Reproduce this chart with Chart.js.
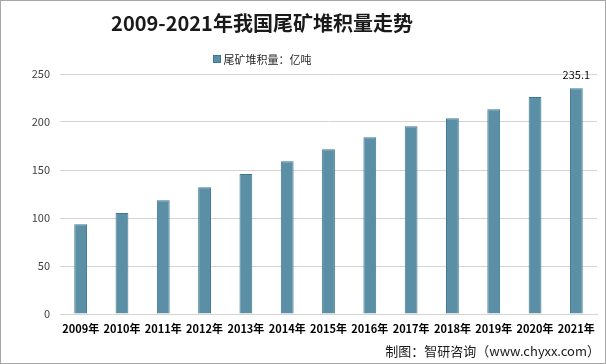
<!DOCTYPE html>
<html>
<head>
<meta charset="utf-8">
<script src="https://cdn.jsdelivr.net/npm/chart.js@4.4.1/dist/chart.umd.min.js"></script>
<style>
  body { margin: 0; background: #fff; }
  #wrap { position: relative; width: 606px; height: 364px; font-family: "Noto Sans CJK SC", "Noto Sans", sans-serif; }
  #frame { position: absolute; left: 0; top: 0; width: 606px; height: 364px; box-sizing: border-box; border: 1px solid #a6a6a6; pointer-events: none; }
  #titulo { position: absolute; left: 0; top: 11px; width: 524px; text-align: center; font-size: 20px; line-height: 24px; font-weight: bold; color: #1a1a1a; }
  #leyenda { position: absolute; left: 0; top: 51px; width: 524px; text-align: center; font-size: 11px; line-height: 16px; color: #262626; }
  #leyenda span.caja { display: inline-block; width: 6px; height: 6px; background: #5b8fa6; border: 1px solid #3d7891; margin-right: 3px; vertical-align: 1px; }
  #fuente { position: absolute; right: 6px; top: 343px; font-size: 13px; line-height: 16px; color: #1a1a1a; }
</style>
</head>
<body>
<div id="wrap">
  <canvas id="grafico"></canvas>
  <div id="titulo">2009-2021年我国尾矿堆积量走势</div>
  <div id="leyenda"><span class="caja"></span>尾矿堆积量：亿吨</div>
  <div id="fuente">制图：智研咨询（www.chyxx.com）</div>
  <div id="frame"></div>
</div>
<script>
// datos
const anios = ['2009年', '2010年', '2011年', '2012年', '2013年', '2014年', '2015年',
               '2016年', '2017年', '2018年', '2019年', '2020年', '2021年'];
const stock = [93.4, 105.2, 118.4, 132, 145.8, 159, 171.5, 184, 195.5, 203.8, 213.2, 226, 235.1];
const ticksY = [0, 50, 100, 150, 200, 250];

Chart.defaults.font.family = '"Noto Sans CJK SC", "Noto Sans", sans-serif';

// etiqueta solo sobre la ultima barra
const etiquetaFinal = {
  id: 'etiquetaFinal',
  afterDatasetsDraw(chart) {
    const meta = chart.getDatasetMeta(0);
    const i = stock.length - 1;
    const bar = meta.data[i];
    const ctx = chart.ctx;
    ctx.save();
    ctx.font = '11px "Noto Sans CJK SC", sans-serif';
    ctx.fillStyle = '#111';
    ctx.textAlign = 'center';
    ctx.textBaseline = 'bottom';
    ctx.fillText(String(stock[i]), bar.x, bar.y - 8);
    ctx.restore();
  }
};

new Chart(document.getElementById('grafico'), {
  type: 'bar',
  data: {
    labels: anios,
    datasets: [{
      label: '尾矿堆积量：亿吨',
      data: stock,
      backgroundColor: '#5b8fa6',
      borderColor: '#3d7891',
      borderWidth: 1,
      categoryPercentage: 1,
      barPercentage: 0.31
    }]
  },
  options: {
    responsive: true,
    maintainAspectRatio: false,
    animation: false,
    layout: { padding: { top: 74, right: 9, left: 0, bottom: 0 } },
    plugins: {
      legend: { display: false },
      title: { display: false },
      tooltip: { enabled: false }
    },
    scales: {
      x: {
        grid: { display: false, drawTicks: false },
        border: { display: true, color: '#d4d4d4' },
        ticks: { color: '#000', font: { size: 11, weight: 'bold' }, padding: 8, maxRotation: 0, autoSkip: false },
        afterFit(scale) { scale.height = 50; }
      },
      y: {
        min: 0,
        max: 250,
        afterBuildTicks(scale) { scale.ticks = ticksY.map(v => ({ value: v })); },
        grid: { color: '#d4d4d4', drawTicks: false },
        border: { display: false },
        ticks: { color: '#404040', font: { size: 11 }, padding: 10 },
        afterFit(scale) { scale.width = 60; }
      }
    }
  },
  plugins: [etiquetaFinal]
});
</script>
</body>
</html>
